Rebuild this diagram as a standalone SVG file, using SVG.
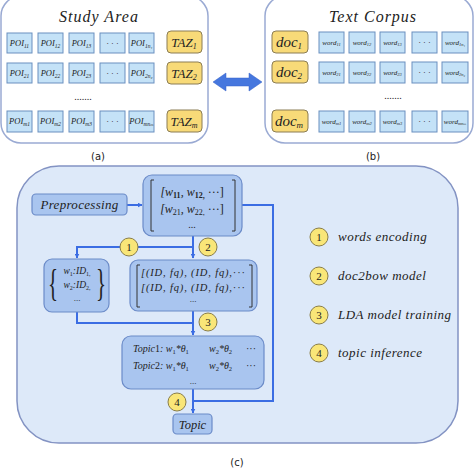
<svg xmlns="http://www.w3.org/2000/svg" width="474" height="474" viewBox="0 0 474 474">
<defs>
<marker id="ah" viewBox="0 0 10 10" refX="9" refY="5" markerWidth="5" markerHeight="5" orient="auto" markerUnits="userSpaceOnUse">
<path d="M0,0 L10,5 L0,10 z" fill="#3b6de3"/>
</marker>
<style>
.panel{fill:#ffffff;stroke:#9aaad3;stroke-width:1.5}
.poi{fill:#c4e2f7;stroke:#6a8fbf;stroke-width:1}
.taz{fill:#f8da78;stroke:#8b7d55;stroke-width:1}
.node{fill:#a9c5ef;stroke:#6b8bc8;stroke-width:1.2}
.conn{fill:none;stroke:#3b6de3;stroke-width:2}
.circ{fill:#f9e678;stroke:#8a7e48;stroke-width:1}
.m{font-family:"Liberation Serif","DejaVu Serif",serif;font-style:italic;fill:#222}
.r{font-family:"Liberation Serif","DejaVu Serif",serif;fill:#222}
.lab{font-family:"DejaVu Sans","Liberation Sans",sans-serif;font-size:10px;fill:#222}
.brk{fill:none;stroke:#333;stroke-width:1}
</style>
</defs>

<!-- Panel (a) -->
<g id="panel-a">
<rect class="panel" x="1" y="-4" width="207" height="147" rx="20"/>
<text class="m" x="99" y="22" font-size="16" text-anchor="middle" letter-spacing="1">Study Area</text>
<g font-size="8.5" class="m" text-anchor="middle">
<rect class="poi" x="7" y="33" width="25" height="20"/><text x="19.5" y="46">POI<tspan font-size="5.5" dy="1.5">11</tspan></text>
<rect class="poi" x="38" y="33" width="25" height="20"/><text x="50.5" y="46">POI<tspan font-size="5.5" dy="1.5">12</tspan></text>
<rect class="poi" x="69" y="33" width="25" height="20"/><text x="81.5" y="46">POI<tspan font-size="5.5" dy="1.5">13</tspan></text>
<rect class="poi" x="100" y="33" width="25" height="20"/><text x="112.5" y="46" class="r" font-style="normal">· · ·</text>
<rect class="poi" x="129" y="33" width="25" height="20"/><text x="141.5" y="46">POI<tspan font-size="5.5" dy="1.5">1n₁</tspan></text>

<rect class="poi" x="7" y="63" width="25" height="20"/><text x="19.5" y="76">POI<tspan font-size="5.5" dy="1.5">21</tspan></text>
<rect class="poi" x="38" y="63" width="25" height="20"/><text x="50.5" y="76">POI<tspan font-size="5.5" dy="1.5">22</tspan></text>
<rect class="poi" x="69" y="63" width="25" height="20"/><text x="81.5" y="76">POI<tspan font-size="5.5" dy="1.5">23</tspan></text>
<rect class="poi" x="100" y="63" width="25" height="20"/><text x="112.5" y="76" class="r" font-style="normal">· · ·</text>
<rect class="poi" x="129" y="63" width="25" height="20"/><text x="141.5" y="76">POI<tspan font-size="5.5" dy="1.5">2n₂</tspan></text>

<rect class="poi" x="7" y="111" width="25" height="21"/><text x="19.5" y="124">POI<tspan font-size="5.5" dy="1.5">m1</tspan></text>
<rect class="poi" x="38" y="111" width="25" height="21"/><text x="50.5" y="124">POI<tspan font-size="5.5" dy="1.5">m2</tspan></text>
<rect class="poi" x="69" y="111" width="25" height="21"/><text x="81.5" y="124">POI<tspan font-size="5.5" dy="1.5">m3</tspan></text>
<rect class="poi" x="100" y="111" width="25" height="21"/><text x="112.5" y="124" class="r" font-style="normal">· · ·</text>
<rect class="poi" x="129" y="111" width="25" height="21"/><text x="141.5" y="124">POI<tspan font-size="5.5" dy="1.5">mnₘ</tspan></text>
</g>
<text class="r" x="83" y="100" font-size="10" text-anchor="middle">.......</text>
<g class="m" font-size="13" text-anchor="middle">
<rect class="taz" x="167" y="31" width="35" height="22" rx="4"/><text x="184" y="47">TAZ<tspan font-size="8" dy="2">1</tspan></text>
<rect class="taz" x="167" y="62" width="35" height="22" rx="4"/><text x="184" y="78">TAZ<tspan font-size="8" dy="2">2</tspan></text>
<rect class="taz" x="167" y="110" width="35" height="22" rx="4"/><text x="184" y="126">TAZ<tspan font-size="8" dy="2">m</tspan></text>
</g>
<text class="lab" x="98" y="160" text-anchor="middle">(a)</text>
</g>

<!-- double arrow -->
<g id="double-arrow">
<polygon points="213,82 226,73 226,78 249,78 249,73 262,82 249,91 249,86 226,86 226,91" fill="#4677de" stroke="#3460c8" stroke-width="0.5"/>
</g>

<!-- Panel (b) -->
<g id="panel-b">
<rect class="panel" x="265" y="-4" width="208" height="147" rx="20"/>
<text class="m" x="373" y="22" font-size="16" text-anchor="middle" letter-spacing="1">Text Corpus</text>
<g class="m" font-size="15" text-anchor="middle">
<rect class="taz" x="272" y="31" width="36" height="22" rx="4"/><text x="289" y="47">doc<tspan font-size="9" dy="2">1</tspan></text>
<rect class="taz" x="272" y="61" width="36" height="22" rx="4"/><text x="289" y="77">doc<tspan font-size="9" dy="2">2</tspan></text>
<rect class="taz" x="272" y="110" width="36" height="22" rx="4"/><text x="289" y="126">doc<tspan font-size="9" dy="2">m</tspan></text>
</g>
<g class="m" font-size="7" text-anchor="middle">
<rect class="poi" x="319" y="32" width="25" height="21"/><text x="331.5" y="45">word<tspan font-size="4.5" dy="1">11</tspan></text>
<rect class="poi" x="349" y="32" width="26" height="21"/><text x="362" y="45">word<tspan font-size="4.5" dy="1">12</tspan></text>
<rect class="poi" x="380" y="32" width="25" height="21"/><text x="392.5" y="45">word<tspan font-size="4.5" dy="1">13</tspan></text>
<rect class="poi" x="412" y="32" width="25" height="21"/><text x="424.5" y="45" class="r" font-style="normal" font-size="8.5">· · ·</text>
<rect class="poi" x="442" y="32" width="26" height="21"/><text x="455" y="45">word<tspan font-size="4.5" dy="1">1n₁</tspan></text>

<rect class="poi" x="319" y="62" width="25" height="21"/><text x="331.5" y="75">word<tspan font-size="4.5" dy="1">21</tspan></text>
<rect class="poi" x="349" y="62" width="26" height="21"/><text x="362" y="75">word<tspan font-size="4.5" dy="1">22</tspan></text>
<rect class="poi" x="380" y="62" width="25" height="21"/><text x="392.5" y="75">word<tspan font-size="4.5" dy="1">23</tspan></text>
<rect class="poi" x="412" y="62" width="25" height="21"/><text x="424.5" y="75" class="r" font-style="normal" font-size="8.5">· · ·</text>
<rect class="poi" x="442" y="62" width="26" height="21"/><text x="455" y="75">word<tspan font-size="4.5" dy="1">2n₂</tspan></text>

<rect class="poi" x="319" y="111" width="25" height="21"/><text x="331.5" y="124">word<tspan font-size="4.5" dy="1">m1</tspan></text>
<rect class="poi" x="349" y="111" width="26" height="21"/><text x="362" y="124">word<tspan font-size="4.5" dy="1">m2</tspan></text>
<rect class="poi" x="380" y="111" width="25" height="21"/><text x="392.5" y="124">word<tspan font-size="4.5" dy="1">m3</tspan></text>
<rect class="poi" x="412" y="111" width="25" height="21"/><text x="424.5" y="124" class="r" font-style="normal" font-size="8.5">· · ·</text>
<rect class="poi" x="442" y="111" width="26" height="21"/><text x="455" y="124">word<tspan font-size="4.5" dy="1">mnₘ</tspan></text>
</g>
<text class="r" x="393" y="99" font-size="10" text-anchor="middle">.......</text>
<text class="lab" x="373" y="160" text-anchor="middle">(b)</text>
</g>

<!-- Panel (c) -->
<g id="panel-c">
<rect x="17" y="166" width="441" height="277" rx="42" fill="#dde9f9" stroke="#8393c3" stroke-width="1.5"/>
<text class="lab" x="237" y="466" text-anchor="middle">(c)</text>
</g>

<!-- connectors -->
<g id="connectors">
<path class="conn" d="M127,205 H142" marker-end="url(#ah)"/>
<path class="conn" d="M242,205 H273 V401 H193"/>
<path class="conn" d="M193,236 V258" marker-end="url(#ah)"/>
<path class="conn" d="M193,247 H77 V258" marker-end="url(#ah)"/>
<path class="conn" d="M77,312 V323 H193"/>
<path class="conn" d="M193,311 V335" marker-end="url(#ah)"/>
<path class="conn" d="M193,389 V413" marker-end="url(#ah)"/>
</g>

<g id="preprocessing">
<rect class="node" x="32" y="194" width="95" height="21" rx="4"/>
<text class="m" x="79.5" y="209" font-size="13" text-anchor="middle" letter-spacing="0.3">Preprocessing</text>
</g>

<g id="word-matrix">
<rect class="node" x="143" y="175" width="99" height="61" rx="9"/>
<path class="brk" d="M154,180 H151 V231 H154 M232,180 H235 V231 H232"/>
<text class="m" x="192" y="196" font-size="12" text-anchor="middle">[w<tspan font-size="8" dy="2" font-weight="bold" font-style="normal">11</tspan><tspan dy="-2">, w</tspan><tspan font-size="8" dy="2" font-weight="bold" font-style="normal">12,</tspan><tspan dy="-2" font-style="normal">   ···]</tspan></text>
<text class="m" x="192" y="213" font-size="12" text-anchor="middle">[w<tspan font-size="8" dy="2" font-style="normal">21</tspan><tspan dy="-2">, w</tspan><tspan font-size="8" dy="2" font-style="normal">22,</tspan><tspan dy="-2" font-style="normal">   ···]</tspan></text>
<text class="r" x="192" y="228" font-size="10" text-anchor="middle">...</text>
</g>

<g id="dictionary">
<rect class="node" x="44" y="259" width="65" height="53" rx="8"/>
<text class="r" x="53" y="296" font-size="38" text-anchor="middle" transform="translate(53 284) scale(0.55 1) translate(-53 -284)">{</text>
<text class="r" x="101" y="296" font-size="38" text-anchor="middle" transform="translate(101 284) scale(0.55 1) translate(-101 -284)">}</text>
<text class="m" x="77" y="274" font-size="9.5" text-anchor="middle">w<tspan font-size="6" dy="1.5" font-style="normal">1</tspan><tspan dy="-1.5">:ID</tspan><tspan font-size="6" dy="1.5" font-style="normal">1,</tspan></text>
<text class="m" x="77" y="288" font-size="9.5" text-anchor="middle">w<tspan font-size="6" dy="1.5" font-style="normal">2</tspan><tspan dy="-1.5">:ID</tspan><tspan font-size="6" dy="1.5" font-style="normal">2,</tspan></text>
<text class="r" x="77" y="301" font-size="9" text-anchor="middle">...</text>
</g>

<g id="doc2bow">
<rect class="node" x="130" y="260" width="127" height="51" rx="8"/>
<path class="brk" d="M140,265 H137 V307 H140 M249,265 H252 V307 H249"/>
<text class="m" x="141" y="276" font-size="10.5" textLength="104" lengthAdjust="spacing">[(ID, fq), (ID, fq),<tspan font-style="normal">···</tspan></text>
<text class="m" x="141" y="291" font-size="10.5" textLength="104" lengthAdjust="spacing">[(ID, fq), (ID, fq),<tspan font-style="normal">···</tspan></text>
<text class="r" x="193" y="302" font-size="9" text-anchor="middle">...</text>
</g>

<g id="lda-topics">
<rect class="node" x="122" y="336" width="142" height="53" rx="9"/>
<text class="m" x="133" y="352" font-size="10">Topic<tspan font-style="normal">1</tspan>: w<tspan font-size="6.5" dy="1.5" font-style="normal">1</tspan><tspan dy="-1.5">*θ</tspan><tspan font-size="6.5" dy="1.5" font-style="normal">1</tspan></text>
<text class="m" x="209" y="352" font-size="10">w<tspan font-size="6.5" dy="1.5" font-style="normal">2</tspan><tspan dy="-1.5">*θ</tspan><tspan font-size="6.5" dy="1.5" font-style="normal">2</tspan></text>
<text class="r" x="246" y="352" font-size="10">···</text>
<text class="m" x="133" y="369" font-size="10">Topic<tspan font-style="normal">2</tspan>: w<tspan font-size="6.5" dy="1.5" font-style="normal">1</tspan><tspan dy="-1.5">*θ</tspan><tspan font-size="6.5" dy="1.5" font-style="normal">1</tspan></text>
<text class="m" x="209" y="369" font-size="10">w<tspan font-size="6.5" dy="1.5" font-style="normal">2</tspan><tspan dy="-1.5">*θ</tspan><tspan font-size="6.5" dy="1.5" font-style="normal">2</tspan></text>
<text class="r" x="246" y="369" font-size="10">···</text>
<text class="r" x="193" y="384" font-size="9" text-anchor="middle">...</text>
</g>

<g id="topic">
<rect class="node" x="173" y="414" width="39" height="20" rx="4"/>
<text class="m" x="192.5" y="428.5" font-size="12.5" text-anchor="middle">Topic</text>
</g>

<g id="step-markers" class="r" font-size="11" text-anchor="middle">
<circle class="circ" cx="129" cy="247" r="9"/><text x="129" y="251">1</text>
<circle class="circ" cx="208" cy="247" r="9"/><text x="208" y="251">2</text>
<circle class="circ" cx="208" cy="322" r="9"/><text x="208" y="326">3</text>
<circle class="circ" cx="177" cy="402" r="9"/><text x="177" y="406">4</text>
</g>

<g id="legend">
<g class="r" font-size="11" text-anchor="middle">
<circle class="circ" cx="319" cy="237" r="9"/><text x="319" y="241">1</text>
<circle class="circ" cx="319" cy="276" r="9"/><text x="319" y="280">2</text>
<circle class="circ" cx="319" cy="315" r="9"/><text x="319" y="319">3</text>
<circle class="circ" cx="319" cy="353" r="9"/><text x="319" y="357">4</text>
</g>
<g class="m" font-size="13" letter-spacing="0.5">
<text x="338" y="241">words encoding</text>
<text x="338" y="280">doc2bow model</text>
<text x="338" y="319">LDA model training</text>
<text x="338" y="357">topic inference</text>
</g>
</g>
</svg>
